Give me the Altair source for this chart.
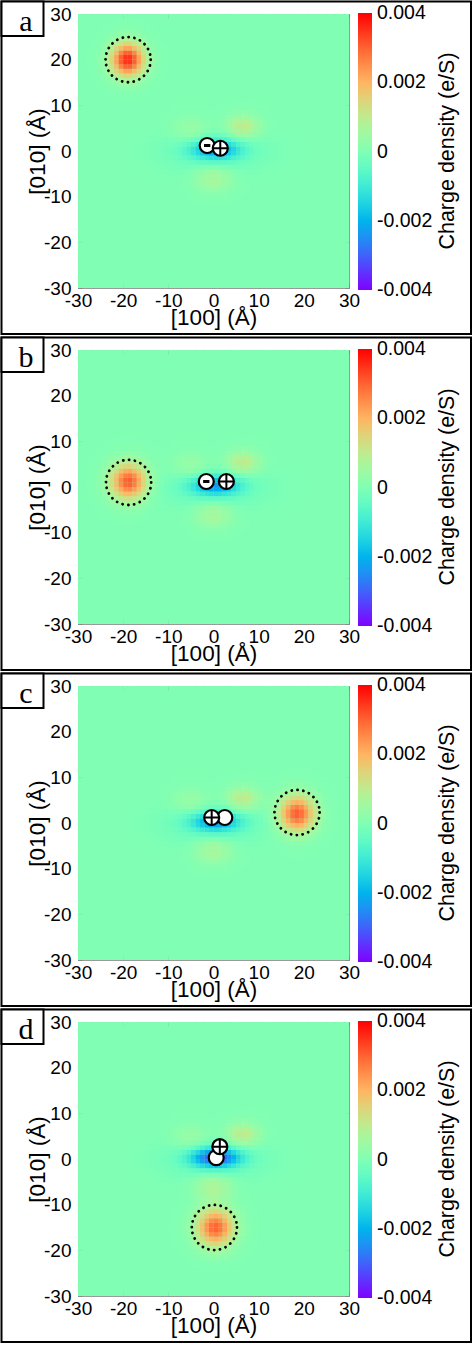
import math
import numpy as np
import pandas as pd
import altair as alt

# ---------------- data ----------------
panel_letters = ["a", "b", "c", "d"]

# red (positive) spot in each panel
spot_x = [-19.0, -18.8, 18.5, 0.4]
spot_y = [20.0, 1.2, 2.0, -15.0]
spot_amp = [0.0036, 0.0031, 0.0031, 0.0030]
spot_sigma = [2.6, 2.8, 2.8, 2.9]

# structure around the dipole: hole, upper-right lobe, upper-left lobe, lower lobe, wide halo
dip_x = [0.5, 6.5, -5.0, 0.0, 0.0]
dip_y = [0.3, 5.3, 4.5, -6.0, 0.0]
dip_sx = [3.8, 2.6, 3.0, 3.0, 7.5]
dip_sy = [1.5, 1.8, 2.0, 2.0, 3.0]
dip_amp = {
    "a": [-0.0019, 0.0011, 0.0005, 0.0007, -0.0005],
    "b": [-0.0019, 0.0011, 0.0005, 0.0007, -0.0005],
    "c": [-0.0019, 0.0011, 0.0005, 0.0007, -0.0005],
    "d": [-0.0028, 0.0011, 0.0005, 0.0008, -0.0005],
}

# dotted ring around the spot (centre, radius in Angstrom)
ring_x = [-18.9, -18.8, 18.5, 0.2]
ring_y = [20.0, 1.0, 2.3, -15.0]
ring_r = [5.0, 5.0, 5.0, 5.0]

# charge markers
minus_x = [-1.4, -1.6, 2.5, 0.6]
minus_y = [1.2, 1.2, 1.2, 0.3]
minus_sign = [True, True, False, False]
plus_x = [1.5, 2.85, -0.4, 1.4]
plus_y = [0.6, 1.2, 1.2, 2.7]

tick_vals = [-30, -20, -10, 0, 10, 20, 30]
cbar_vals = [0.004, 0.002, 0.0, -0.002, -0.004]
cbar_labels = ["0.004", "0.002", "0", "-0.002", "-0.004"]

# ---------------- styling ----------------
W, H = 271, 274
FONT = "Liberation Sans"
CB_TOP, CB_LEN = -1, 277


def rainbow(t):
    r = min(1.0, abs(2 * t - 0.5))
    g = math.sin(math.pi * t)
    b = math.cos(math.pi * t / 2)
    return "#%02x%02x%02x" % (round(r * 255), round(g * 255), round(max(0, b) * 255))


cmap = [rainbow(i / 20) for i in range(21)]
color_scale = alt.Scale(domain=[-0.004, 0.004], range=cmap, interpolate="rgb", clamp=True)
xs = alt.Scale(domain=[-30, 30], nice=False, zero=False)
ys = alt.Scale(domain=[-30, 30], nice=False, zero=False)
cb_scale = alt.Scale(domain=[-0.004, 0.004], range=[CB_TOP + CB_LEN, CB_TOP], nice=False, zero=False)

grid_c = np.arange(-29.5, 30.0, 1.0)
gx, gy = np.meshgrid(grid_c, grid_c)

marker_size = 225


def tick_axis(orient):
    return alt.Axis(orient=orient, offset=-4, tickSize=4, labels=False, domain=False,
                    grid=False, title=None, values=tick_vals, tickColor="#8a8a8a", tickWidth=1)


def panel(k):
    p = panel_letters[k]
    v = spot_amp[k] * np.exp(-((gx - spot_x[k]) ** 2 + (gy - spot_y[k]) ** 2) / (2 * spot_sigma[k] ** 2))
    for j in range(len(dip_x)):
        v = v + dip_amp[p][j] * np.exp(-((gx - dip_x[j]) ** 2 / (2 * dip_sx[j] ** 2)
                                         + (gy - dip_y[j]) ** 2 / (2 * dip_sy[j] ** 2)))
    heat_df = pd.DataFrame({
        "x": (gx - 0.5).ravel().round(2), "x2": (gx + 0.53).ravel().round(2),
        "y": (gy - 0.5).ravel().round(2), "y2": (gy + 0.53).ravel().round(2),
        "v": v.ravel().round(6),
    })
    heat = alt.Chart(heat_df).mark_rect(clip=True, strokeWidth=0).encode(
        x=alt.X("x:Q", scale=xs, axis=alt.Axis(
            values=tick_vals, ticks=False, domain=False, grid=False, labelFlush=False,
            labelExpr="toString(datum.value)", labelFontSize=19, labelPadding=3,
            labelFont=FONT, labelColor="black",
            title="[100] (Å)", titleFontSize=22.5, titleFontWeight="normal", titleFont=FONT,
            titleColor="black", titleX=135.5, titleY=29, titleBaseline="middle")),
        x2="x2:Q",
        y=alt.Y("y:Q", scale=ys, axis=alt.Axis(
            values=tick_vals, ticks=False, domain=False, grid=False, labelFlush=False,
            labelExpr="toString(datum.value)", labelFontSize=19, labelPadding=7,
            labelFont=FONT, labelColor="black",
            title="[010] (Å)", titleFontSize=22.5, titleFontWeight="normal", titleFont=FONT,
            titleColor="black", titleX=-41, titleY=137, titleBaseline="middle", titleAngle=270)),
        y2="y2:Q",
        color=alt.Color("v:Q", scale=color_scale, legend=alt.Legend(
            orient="none", legendX=280, legendY=CB_TOP, direction="vertical",
            gradientLength=CB_LEN, gradientThickness=14, gradientStrokeWidth=0,
            title=None, values=cbar_vals, padding=0, labelExpr="''",
            labelFontSize=1, labelOverlap=False)),
    )

    ring_df = pd.DataFrame({"x": [ring_x[k]], "y": [ring_y[k]]})
    ring_size = (2 * ring_r[k] * W / 60) ** 2
    ring = alt.Chart(ring_df).mark_point(
        shape="circle", filled=False, stroke="black", opacity=1, size=ring_size,
        strokeWidth=2.8, strokeDash=[0.1, 5.8], strokeCap="round").encode(
        x=alt.X("x:Q", scale=xs, axis=tick_axis("top")),
        y=alt.Y("y:Q", scale=ys, axis=tick_axis("right")),
    )

    mdf = pd.DataFrame({"x": [minus_x[k]], "y": [minus_y[k]], "s": [minus_sign[k]]})
    minus_c = alt.Chart(mdf).mark_point(
        shape="circle", filled=True, fill="white", stroke="black", strokeWidth=2.2,
        opacity=1, size=marker_size).encode(
        x=alt.X("x:Q", scale=xs, axis=tick_axis("bottom")),
        y=alt.Y("y:Q", scale=ys, axis=tick_axis("left")),
    )
    minus_s = alt.Chart(mdf[mdf["s"]]).mark_point(
        shape="M-0.42,0L0.42,0", filled=False, stroke="black", strokeWidth=3,
        opacity=1, size=marker_size).encode(
        x=alt.X("x:Q", scale=xs, axis=None), y=alt.Y("y:Q", scale=ys, axis=None))

    pdf = pd.DataFrame({"x": [plus_x[k]], "y": [plus_y[k]]})
    plus_c = alt.Chart(pdf).mark_point(
        shape="circle", filled=True, fill="white", stroke="black", strokeWidth=2.2,
        opacity=1, size=marker_size).encode(
        x=alt.X("x:Q", scale=xs, axis=None), y=alt.Y("y:Q", scale=ys, axis=None))
    plus_s = alt.Chart(pdf).mark_point(
        shape="M-1,0L1,0M0,-1L0,1", filled=False, stroke="black", strokeWidth=2,
        opacity=1, size=marker_size).encode(
        x=alt.X("x:Q", scale=xs, axis=None), y=alt.Y("y:Q", scale=ys, axis=None))

    cb_df = pd.DataFrame({"val": cbar_vals, "lab": cbar_labels})
    cb_labels = alt.Chart(cb_df).mark_text(font=FONT, fontSize=19.5, align="left",
                                           baseline="middle", color="black").encode(
        x=alt.value(299), y=alt.Y("val:Q", scale=cb_scale, axis=None), text="lab:N")

    one = pd.DataFrame({"t": [p]})
    border = alt.Chart(one).mark_rect(fill=None, fillOpacity=0, stroke="black", strokeWidth=2).encode(
        x=alt.value(-76.5), x2=alt.value(393), y=alt.value(-12.5), y2=alt.value(320))
    box = alt.Chart(one).mark_rect(fill="white", stroke="black", strokeWidth=2).encode(
        x=alt.value(-76.5), x2=alt.value(-34.5), y=alt.value(-12.5), y2=alt.value(22))
    letter = alt.Chart(one).mark_text(font="Liberation Serif", fontSize=30, align="center",
                                      baseline="alphabetic", color="black").encode(
        x=alt.value(-52), y=alt.value(17), text="t:N")
    cb_title = alt.Chart(one).mark_text(font=FONT, fontSize=21.5, align="center", baseline="middle",
                                        angle=270, color="black").encode(
        x=alt.value(370), y=alt.value(137), text=alt.value("Charge density (e/S)"))

    return alt.layer(heat, ring, minus_c, minus_s, plus_c, plus_s, cb_labels,
                     border, box, letter, cb_title).resolve_scale(y="independent").resolve_axis(
        x="independent", y="independent").properties(width=W, height=H)


chart = alt.vconcat(*[panel(k) for k in range(4)], spacing=0).resolve_scale(
    color="independent").configure_view(stroke="#9a9a9a", strokeWidth=1, fill="#80ffb4").properties(
    padding=0, background="white")

chart.save("out.html", embed_options={"renderer": "svg", "actions": False})
